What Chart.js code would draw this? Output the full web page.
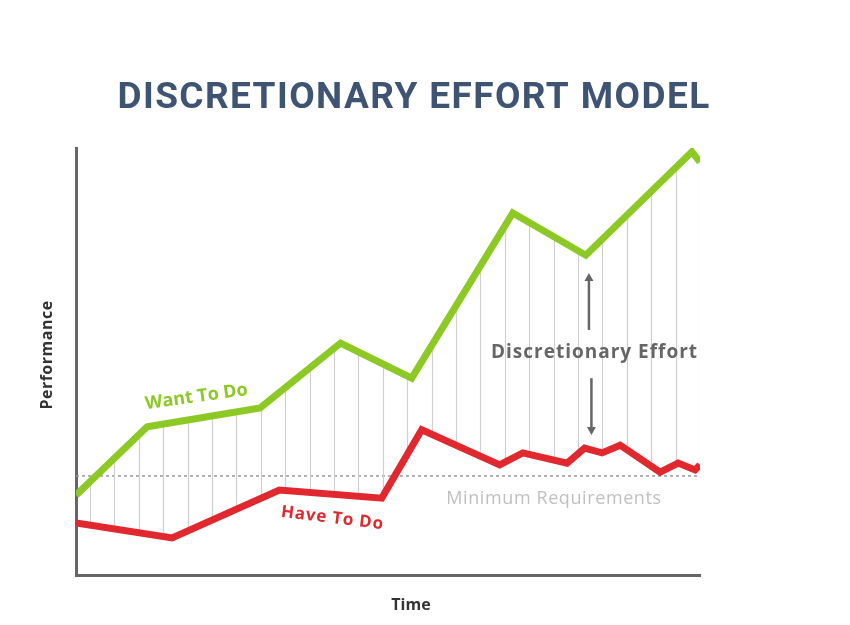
<!DOCTYPE html>
<html>
<head>
<meta charset="utf-8">
<script src="https://cdn.jsdelivr.net/npm/chart.js@4/dist/chart.umd.min.js"></script>
<style>
  html, body { margin: 0; padding: 0; background: #fff; }
  #wrap { width: 850px; height: 625px; }
</style>
</head>
<body>
<div id="wrap"><canvas id="effortChart" width="850" height="625"></canvas></div>
<script>
// values (x = time 0..100, y = performance 0..100)
const wantX = [0, 11.4, 29.5, 42.4, 53.8, 70.0, 81.7, 98.7, 100];
const wantY = [18.7, 34.7, 39.1, 54.3, 46.1, 84.8, 74.9, 99.1, 96.7];

const haveX = [0, 15.4, 32.6, 49.0, 55.4, 67.9, 71.6, 78.7, 81.5, 84.3, 87.2, 93.6, 96.5, 99.2, 100];
const haveY = [12.2, 8.7, 19.9, 18.0, 34.0, 25.8, 28.6, 26.2, 29.7, 28.6, 30.4, 24.1, 26.2, 24.6, 25.8];

const minX = [0, 100];
const minY = [23.2, 23.2];

const labels = {
    title: "DISCRETIONARY EFFORT MODEL",
    yTitle: "Performance",
    xTitle: "Time",
    want: "Want To Do",
    have: "Have To Do",
    effort: "Discretionary Effort",
    minimum: "Minimum Requirements"
};

function toPoints(xs, ys) {
    return xs.map((x, i) => ({ x: x, y: ys[i] }));
}

// vertical hatch lines between the two curves
function makeStripes() {
    const c = document.createElement('canvas');
    c.width = 122;
    c.height = 10;
    const g = c.getContext('2d');
    g.strokeStyle = '#cfcfcf';
    g.lineWidth = 1.2;
    [17, 41, 66, 90, 114].forEach(function (px) {
        g.beginPath();
        g.moveTo(px + 0.5, 0);
        g.lineTo(px + 0.5, 10);
        g.stroke();
    });
    return g.createPattern(c, 'repeat');
}

function arrow(ctx, x, y1, y2) {
    const dir = y2 < y1 ? -1 : 1;
    ctx.beginPath();
    ctx.moveTo(x, y1);
    ctx.lineTo(x, y2 - dir * 5);
    ctx.stroke();
    ctx.beginPath();
    ctx.moveTo(x, y2);
    ctx.lineTo(x - 4.5, y2 - dir * 8);
    ctx.lineTo(x + 4.5, y2 - dir * 8);
    ctx.closePath();
    ctx.fill();
}

function label(ctx, text, x, y, angle, font, color, spacing) {
    ctx.save();
    ctx.translate(x, y);
    ctx.rotate(angle * Math.PI / 180);
    ctx.fillStyle = color;
    ctx.font = font;
    ctx.letterSpacing = spacing || '0px';
    ctx.fillText(text, 0, 0);
    ctx.restore();
}

const textPlugin = {
    id: 'textPlugin',
    afterDraw(chart) {
        const ctx = chart.ctx;
        const xs = chart.scales.x;
        const ys = chart.scales.y;
        const area = chart.chartArea;
        ctx.save();
        ctx.textAlign = 'center';
        ctx.textBaseline = 'middle';

        label(ctx, labels.title, 414, 99, 0, 'bold 37px Roboto', '#3f5472', '1.4px');

        // axis titles
        label(ctx, labels.xTitle, (area.left + area.right) / 2 + 23, area.bottom + 30, 0, 'bold 16px "Open Sans"', '#333');
        label(ctx, labels.yTitle, area.left - 29, 355, -90, 'bold 16px "Open Sans"', '#333', '0.5px');

        // series labels
        label(ctx, labels.want, xs.getPixelForValue(19.3), ys.getPixelForValue(41.7), -8, 'bold 18px "Open Sans"', '#8dc924');
        label(ctx, labels.have, xs.getPixelForValue(41.1), ys.getPixelForValue(13.3), 7, 'bold 17px "Open Sans"', '#e0282e', '0.8px');

        // discretionary effort
        label(ctx, labels.effort, xs.getPixelForValue(83.1), ys.getPixelForValue(52.2), 0, 'bold 19px "Open Sans"', '#666', '1px');
        ctx.fillStyle = '#666';
        ctx.strokeStyle = '#666';
        ctx.lineWidth = 2.5;
        arrow(ctx, xs.getPixelForValue(82.2), ys.getPixelForValue(57.4), ys.getPixelForValue(70.7));
        arrow(ctx, xs.getPixelForValue(82.6), ys.getPixelForValue(46.1), ys.getPixelForValue(32.8));

        // minimum requirements
        label(ctx, labels.minimum, xs.getPixelForValue(76.6), ys.getPixelForValue(17.8), 0, '18px "Open Sans"', '#c0c0c0', '0.6px');
        ctx.restore();
    }
};

const ctx = document.getElementById('effortChart').getContext('2d');
const effortChart = new Chart(ctx, {
    type: 'line',
    data: {
        datasets: [{
            label: labels.want,
            data: toPoints(wantX, wantY),
            borderColor: '#8dc924',
            borderWidth: 7,
            pointRadius: 0,
            tension: 0,
            fill: 1,
            backgroundColor: makeStripes(),
            order: 1
        }, {
            label: labels.have,
            data: toPoints(haveX, haveY),
            borderColor: '#e0282e',
            borderWidth: 7,
            pointRadius: 0,
            tension: 0,
            fill: false,
            order: 0
        }, {
            label: labels.minimum,
            data: toPoints(minX, minY),
            borderColor: '#999',
            borderWidth: 1.5,
            borderDash: [3, 3],
            pointRadius: 0,
            fill: false,
            order: 2
        }]
    },
    options: {
        responsive: false,
        animation: false,
        events: [],
        layout: {
            padding: { left: 68, right: 150, top: 148, bottom: 42 }
        },
        plugins: {
            legend: { display: false },
            tooltip: { enabled: false }
        },
        scales: {
            x: {
                type: 'linear',
                min: 0,
                max: 100,
                grid: { display: false },
                ticks: { display: false },
                border: { display: true, color: '#666', width: 3 }
            },
            y: {
                min: 0,
                max: 100,
                grid: { display: false },
                ticks: { display: false },
                border: { display: true, color: '#666', width: 3 }
            }
        }
    },
    plugins: [textPlugin]
});
</script>
</body>
</html>
